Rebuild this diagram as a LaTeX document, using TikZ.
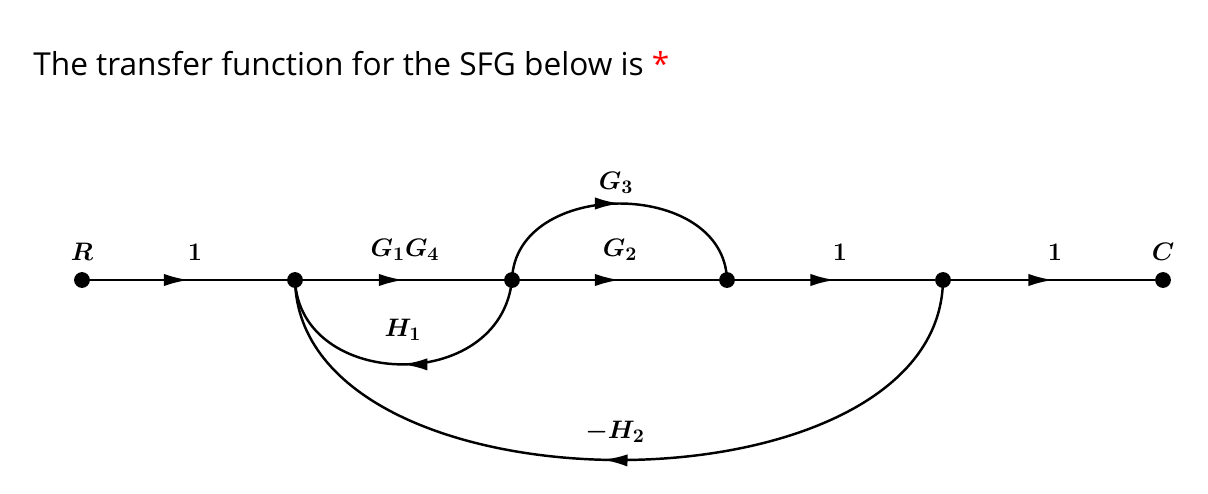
\documentclass[tikz,border=0pt]{standalone}
\usepackage{amsmath,bm}
\usepackage{fontspec}
\setmainfont{Open Sans}
\usetikzlibrary{decorations.markings,arrows.meta}
\begin{document}
\begin{tikzpicture}[x=0.02cm,y=-0.02cm,
  dot/.style={circle,fill=black,inner sep=0pt,minimum size=9pt},
  lbl/.style={font=\fontsize{15}{15}\selectfont},
  br/.style={line width=1.4pt,postaction={decorate},decoration={markings,mark=at position #1 with {\arrow{Latex[length=14pt,width=7pt]}}}},
  br/.default=0.5]
\useasboundingbox (0,0) rectangle (1208,494);
\node[anchor=west,font=\fontsize{18}{18}\selectfont,inner sep=0] (title) at (33,64) {The transfer function for the SFG below is \textcolor{red}{*}};
\node[dot] (R) at (82,280) {};
\node[dot] (a) at (295,280) {};
\node[dot] (b) at (512,280) {};
\node[dot] (c) at (727,280) {};
\node[dot] (d) at (943,280) {};
\node[dot] (C) at (1163,280) {};
\draw[br] (R) -- (a);
\draw[br] (a) -- (b);
\draw[br] (b) -- (c);
\draw[br] (c) -- (d);
\draw[br] (d) -- (C);
\draw[br] (b.center) .. controls (515,178) and (724,178) .. (c.center);
\draw[br] (b.center) .. controls (500,395) and (300,390) .. (a.center);
\draw[br=0.52] (d.center) .. controls (940,520) and (300,520) .. (a.center);
\node[lbl] (lR) at (82,252) {$\bm{R}$};
\node[lbl] (l1) at (195,252) {$\bm{1}$};
\node[lbl] (lG14) at (405,250) {$\bm{G_1G_4}$};
\node[lbl] (lG2) at (620,250) {$\bm{G_2}$};
\node[lbl] (lG3) at (616,183) {$\bm{G_3}$};
\node[lbl] (l2) at (840,252) {$\bm{1}$};
\node[lbl] (l3) at (1055,252) {$\bm{1}$};
\node[lbl] (lC) at (1163,252) {$\bm{C}$};
\node[lbl] (lH1) at (403,330) {$\bm{H_1}$};
\node[lbl] (lH2) at (615,432) {$\bm{-H_2}$};
\end{tikzpicture}
\end{document}
